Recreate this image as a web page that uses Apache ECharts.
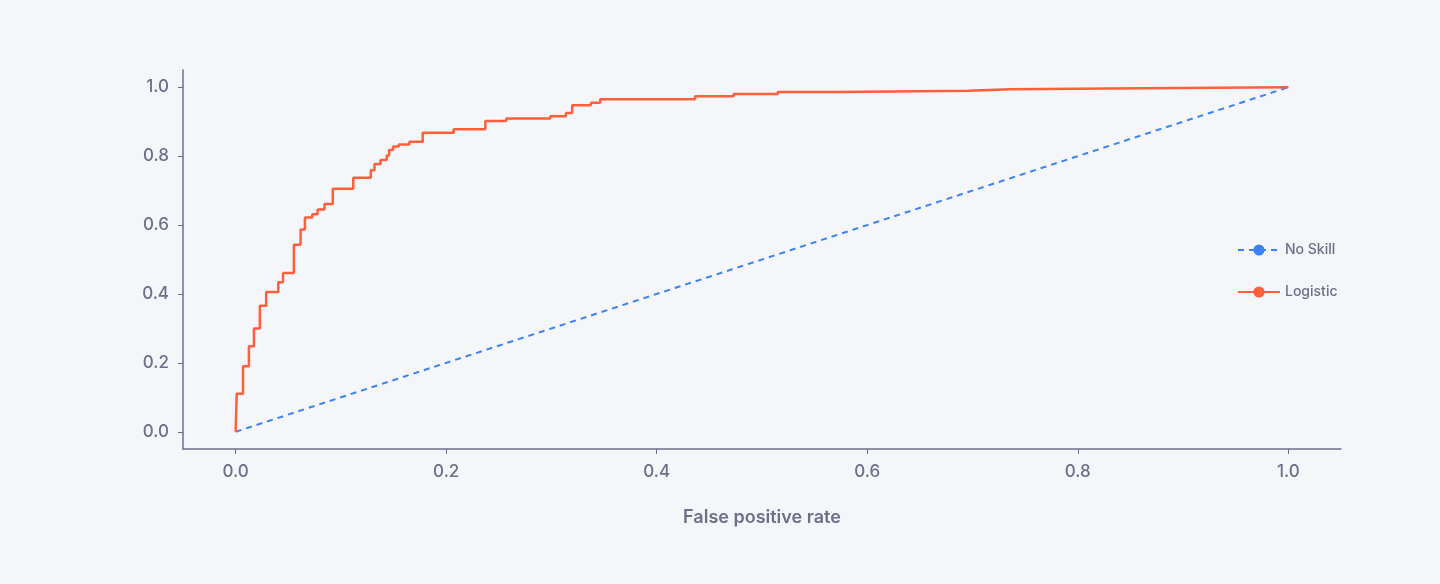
<!DOCTYPE html><html><head><meta charset="utf-8"><script src="https://cdn.jsdelivr.net/npm/echarts@6/dist/echarts.min.js"></script>
<style>html,body{margin:0;background:#f5f6fa}#c{width:1440px;height:584px}</style></head><body><div id="c"></div><script>
const noSkillX=[0,1];
const noSkillY=[0,1];
const logFpr=[0,0.001,0.007,0.0126,0.0174,0.023,0.029,0.0405,0.045,0.0553,0.0617,0.0658,0.0728,0.0778,0.0844,0.0923,0.1117,0.1284,0.1319,0.1376,0.1435,0.1458,0.1496,0.155,0.165,0.1777,0.2071,0.2372,0.2571,0.2989,0.3137,0.3197,0.3375,0.3463,0.4364,0.473,0.515,0.573,0.696,0.736,0.862,1.0];
const logTpr=[0,0.11,0.19,0.248,0.30,0.366,0.406,0.434,0.461,0.543,0.587,0.622,0.631,0.645,0.661,0.705,0.737,0.759,0.777,0.789,0.802,0.818,0.828,0.834,0.842,0.868,0.878,0.902,0.909,0.916,0.925,0.948,0.955,0.965,0.974,0.98,0.986,0.99,0.994,0.997,1.0,1.0];
const tc='#6b7089';
const ticks=[0,0.2,0.4,0.6,0.8,1.0];
const ch=echarts.init(document.getElementById('c'));
ch.setOption({backgroundColor:'#f5f6fa',animation:false,
grid:{left:183,right:99,top:70,bottom:135},
legend:{orient:'vertical',left:1232,top:238,itemGap:28,itemWidth:42,itemHeight:14,textStyle:{color:tc,fontSize:14,fontWeight:500,fontFamily:'Inter'}},
xAxis:{type:'value',min:-0.05,max:1.05,name:'False positive rate',nameLocation:'middle',nameGap:60,
 nameTextStyle:{color:tc,fontSize:18,fontWeight:600,fontFamily:'Inter'},
 axisLine:{onZero:false,lineStyle:{color:tc,width:1.5}},axisTick:{show:true,customValues:ticks,lineStyle:{color:tc}},splitLine:{show:false},
 axisLabel:{color:tc,fontSize:17,fontWeight:500,fontFamily:'Inter',margin:14,formatter:v=>v.toFixed(1),customValues:ticks}},
yAxis:{type:'value',min:-0.05,max:1.05,axisLine:{show:true,onZero:false,lineStyle:{color:tc,width:1.5}},axisTick:{show:true,customValues:ticks,lineStyle:{color:tc}},splitLine:{show:false},
 axisLabel:{color:tc,fontSize:17,fontWeight:500,fontFamily:'Inter',margin:14,formatter:v=>v.toFixed(1),customValues:ticks}},
series:[
{name:'No Skill',type:'line',symbol:'none',data:noSkillX.map((x,i)=>[x,noSkillY[i]]),lineStyle:{color:'#3b82f6',width:2,type:[6,5]},itemStyle:{color:'#3b82f6'}},
{name:'Logistic',type:'line',step:'end',symbol:'none',data:logFpr.map((x,i)=>[x,logTpr[i]]),lineStyle:{color:'#ff5f3a',width:2.5},itemStyle:{color:'#ff5f3a'}}
]});
</script></body></html>
